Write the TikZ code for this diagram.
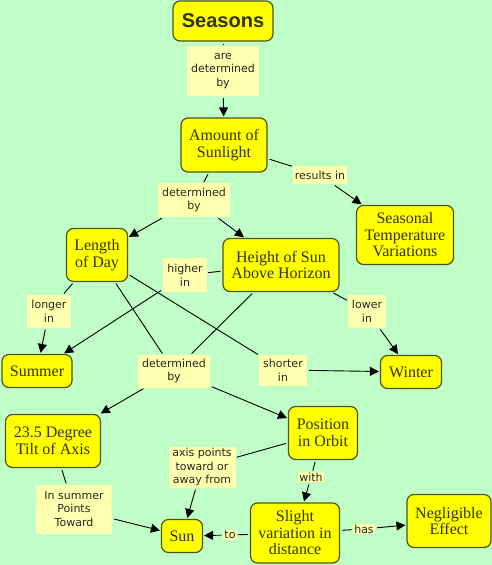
\documentclass[tikz,border=0pt]{standalone}
\usepackage{fontspec}
\setmainfont{Liberation Serif}
\newfontfamily\linkfont{DejaVu Sans}
\newfontfamily\headfont{Liberation Sans}
\usetikzlibrary{arrows.meta}
\definecolor{bggreen}{RGB}{192,255,200}
\definecolor{cyellow}{RGB}{255,255,0}
\definecolor{cborder}{RGB}{80,85,20}
\definecolor{ctext}{RGB}{51,51,0}
\definecolor{lfill}{RGB}{255,255,176}
\definecolor{ltext}{RGB}{40,40,30}

\begin{document}
\begin{tikzpicture}[x=1pt,y=-1pt,>={Triangle[length=9pt,width=9pt]}]
\tikzstyle{concept}=[draw=cborder,fill=cyellow,line width=1.2pt,rounded corners=7pt,align=center,text=ctext,font=\fontsize{16}{16.5}\selectfont,inner sep=2pt]
\tikzstyle{link}=[fill=lfill,align=center,text=ltext,font=\linkfont\fontsize{11}{13.7}\selectfont,inner sep=1pt]
\tikzstyle{conn}=[line width=0.9pt,shorten <=2pt,shorten >=1pt]
\fill[bggreen] (0,0) rectangle (492,565);
\useasboundingbox (0,0) rectangle (492,565);
% concepts
\node[concept,minimum width=100pt,minimum height=40pt,font=\headfont\bfseries\fontsize{20}{22}\selectfont] (seasons) at (223,21) {Seasons};
\node[concept,minimum width=86pt,minimum height=54pt] (amount) at (224,145) {Amount of\\Sunlight};
\node[concept,minimum width=97pt,minimum height=59pt] (seasonal) at (405,235) {Seasonal\\Temperature\\Variations};
\node[concept,minimum width=61pt,minimum height=53pt] (length) at (97,255) {Length\\of Day};
\node[concept,minimum width=116pt,minimum height=53pt] (height) at (281,265) {Height of Sun\\Above Horizon};
\node[concept,minimum width=70pt,minimum height=33pt] (summer) at (37,371) {Summer};
\node[concept,minimum width=61pt,minimum height=33pt] (winter) at (411,372) {Winter};
\node[concept,minimum width=95pt,minimum height=53pt] (tilt) at (53,441) {23.5 Degree\\Tilt of Axis};
\node[concept,minimum width=69pt,minimum height=53pt] (orbit) at (323,433) {Position\\in Orbit};
\node[concept,minimum width=41pt,minimum height=33pt] (sun) at (182,536) {Sun};
\node[concept,minimum width=89pt,minimum height=60pt] (slight) at (295,533) {Slight\\variation in\\distance};
\node[concept,minimum width=84pt,minimum height=53pt] (negligible) at (449,521) {Negligible\\Effect};
% linking phrases
\node[link,minimum width=72pt,minimum height=50pt] (aredet) at (223,71) {are\\determined\\by};
\node[link,minimum width=54pt,minimum height=18pt] (results) at (320,175) {results in};
\node[link,minimum width=72pt,minimum height=34pt] (detby) at (194,200) {determined\\by};
\node[link,minimum width=44pt,minimum height=34pt] (higher) at (185,275) {higher\\in};
\node[link,minimum width=44pt,minimum height=33pt] (longer) at (49,311) {longer\\in};
\node[link,minimum width=38pt,minimum height=33pt] (lower) at (367,311) {lower\\in};
\node[link,minimum width=48pt,minimum height=31pt] (shorter) at (283,370) {shorter\\in};
\node[link,minimum width=72pt,minimum height=33pt] (detbylow) at (174,371) {determined\\by};
\node[link,minimum width=67pt,minimum height=41pt] (axis) at (202,467) {axis points\\toward or\\away from};
\node[link,minimum width=76pt,minimum height=49pt] (insummer) at (74,509) {In summer\\Points\\Toward};
\node[link] (with) at (311,477) {with};
\node[link] (to) at (230,535) {to};
\node[link] (has) at (364,529) {has};
% connectors
\draw[conn] (seasons) -- (aredet);
\draw[conn,->] (aredet) -- (amount);
\draw[conn] (amount) -- (results);
\draw[conn,->] (results) -- (seasonal);
\draw[conn] (amount) -- (detby);
\draw[conn,->] (detby) -- (length);
\draw[conn,->] (detby) -- (height);
\draw[conn] (length) -- (longer);
\draw[conn,->] (longer) -- (summer);
\draw[conn] (length) -- (shorter);
\draw[conn,->] (shorter) -- (winter);
\draw[conn] (length) -- (detbylow);
\draw[conn] (height) -- (higher);
\draw[conn,->] (higher) -- (summer);
\draw[conn] (height) -- (lower);
\draw[conn,->] (lower) -- (winter);
\draw[conn] (height) -- (detbylow);
\draw[conn,->] (detbylow) -- (tilt);
\draw[conn,->] (detbylow) -- (orbit);
\draw[conn] (tilt) -- (insummer);
\draw[conn,->] (insummer) -- (sun);
\draw[conn] (orbit) -- (axis);
\draw[conn,->] (axis) -- (sun);
\draw[conn] (orbit) -- (with);
\draw[conn,->] (with) -- (slight);
\draw[conn] (slight) -- (to);
\draw[conn,->] (to) -- (sun);
\draw[conn] (slight) -- (has);
\draw[conn,->] (has) -- (negligible);
\end{tikzpicture}
\end{document}
